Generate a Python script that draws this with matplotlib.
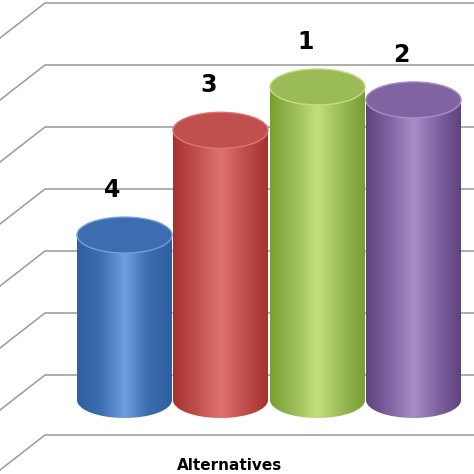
import numpy as np
import matplotlib.pyplot as plt
from matplotlib.patches import Ellipse, Rectangle
from matplotlib.colors import LinearSegmentedColormap

labels = ["4", "3", "1", "2"]
values = [2.66, 4.35, 5.05, 4.84]
colors = [("#2f5f9e", "#6f9fdc", "#3c6db0"),
          ("#a63230", "#e07370", "#c0504d"),
          ("#78a030", "#c4e07c", "#9bbb59"),
          ("#5e447e", "#a88ec8", "#8064a2")]

UNIT = 62.0      # pixels per unit
BASE = 400       # bottom of cylinders
lefts = [77, 173, 270, 366]
width = 95
eh = 36          # ellipse height

fig = plt.figure(figsize=(4.74, 4.74), dpi=100)
ax = fig.add_axes([0, 0, 1, 1])
ax.set_xlim(0, 474)
ax.set_ylim(474, 0)
ax.axis("off")

# grid: diagonal on the left wall then horizontal
for k in range(7):
    y = 375 - k * UNIT
    ax.plot([0, 45, 474], [y + 35, y, y], color="#a0a0a0", lw=1.2, zorder=1)
ax.plot([0, 45, 474], [470, 435, 435], color="#a0a0a0", lw=1.2, zorder=1)

for lab, v, (dark, light, mid), x0 in zip(labels, values, colors, lefts):
    top = BASE - v * UNIT
    cmap = LinearSegmentedColormap.from_list("c", [dark, mid, light, mid, dark])
    grad = np.linspace(0, 1, 200).reshape(1, -1)
    clip = Rectangle((x0, top), width, BASE - top, transform=ax.transData)
    im = ax.imshow(grad, cmap=cmap, extent=[x0, x0 + width, BASE, top],
                   aspect="auto", zorder=2)
    im.set_clip_path(clip)
    bot = Ellipse((x0 + width / 2, BASE), width, eh, facecolor="none",
                  edgecolor="none", zorder=2)
    ax.add_patch(bot)
    im2 = ax.imshow(grad, cmap=cmap, extent=[x0, x0 + width, BASE + eh / 2, BASE],
                    aspect="auto", zorder=2)
    im2.set_clip_path(bot)
    ax.add_patch(Ellipse((x0 + width / 2, top), width, eh, facecolor=mid,
                         edgecolor=light, lw=1, zorder=3))
    ax.text(x0 + width / 2 - 12, top - 45, lab, fontsize=17, fontweight="bold",
            ha="center", va="center", zorder=4)

ax.text(230, 465, "Alternatives", fontsize=11, fontweight="bold",
        ha="center", va="center")

fig.savefig("out.png", dpi=100)
